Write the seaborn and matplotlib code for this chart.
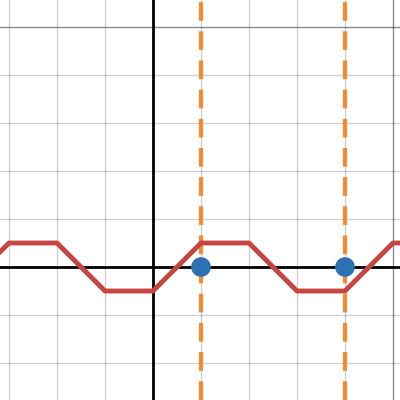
import matplotlib
matplotlib.use("Agg")
import matplotlib.pyplot as plt
import seaborn as sns
import numpy as np
import pandas as pd

wave_x = [-3.2, -3, -2, -1, 0, 1, 2, 3, 4, 5, 5.2]
wave_y = [0.3, 0.5, 0.5, -0.5, -0.5, 0.5, 0.5, -0.5, -0.5, 0.5, 0.5]
vline_x = [1, 4]
pts_x = [1, 4]
pts_y = [0, 0]

sns.set_style("white")
fig = plt.figure(figsize=(4, 4), dpi=100)
ax = fig.add_axes([0, 0, 1, 1])
xmin, xmax = -153/48, 247/48
ymin, ymax = -133/48, 267/48
ax.set_xlim(xmin, xmax)
ax.set_ylim(ymin, ymax)
for v in range(-3, 6):
    ax.axvline(v, color="#000000", alpha=0.45 if v % 5 == 0 and v != 0 else 0.18, lw=1, zorder=0)
for v in range(-2, 6):
    ax.axhline(v, color="#000000", alpha=0.45 if v % 5 == 0 and v != 0 else 0.18, lw=1, zorder=0)
ax.axhline(0, color="black", lw=2, zorder=1)
ax.axvline(0, color="black", lw=2, zorder=1)

df = pd.DataFrame({"x": wave_x, "y": wave_y})
sns.lineplot(data=df, x="x", y="y", sort=False, color="#c74440", lw=3.5, ax=ax, zorder=3)
for v in vline_x:
    ax.axvline(v, color="#fa7e19", lw=3, dashes=(4.5, 2.5), alpha=0.9, zorder=2)
sns.scatterplot(x=pts_x, y=pts_y, color="#2d70b3", s=200, edgecolor="none", ax=ax, zorder=4)

ax.set_xticks([]); ax.set_yticks([])
ax.set_xlabel(""); ax.set_ylabel("")
for s in ax.spines.values():
    s.set_visible(False)
fig.savefig("out.png", dpi=100)
